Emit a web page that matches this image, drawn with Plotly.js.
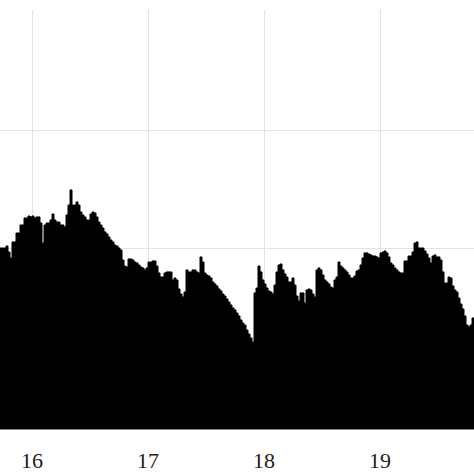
<!DOCTYPE html>
<html>
<head>
<meta charset="utf-8">
<script src="https://cdn.plot.ly/plotly-3.0.1.min.js"></script>
<style>html,body{margin:0;padding:0;background:#fff;}#chart{width:474px;height:474px;}</style>
</head>
<body>
<div id="chart"></div>
<script>
// weekly-ish observations (index = observation number)
const values = [
20.00,20.00,20.00,20.17,19.66,19.15,20.51,20.51,21.27,21.27,
21.95,21.95,22.54,22.54,22.71,22.63,22.71,22.54,22.63,22.63,
22.12,20.42,21.95,22.12,22.12,22.37,22.88,22.37,22.20,22.20,
21.95,21.95,21.78,22.80,23.64,24.92,23.64,23.64,23.90,23.64,
23.05,22.80,22.63,22.37,22.37,22.88,23.05,22.97,22.63,22.20,
21.95,21.69,21.36,21.19,20.93,20.68,20.51,20.25,20.17,20.00,
19.83,18.98,18.47,18.39,19.07,19.07,18.98,18.81,18.73,18.56,
18.39,18.31,18.14,18.31,18.81,18.81,18.90,18.90,18.47,17.88,
17.54,17.54,17.88,17.97,17.97,17.97,17.29,17.46,17.29,16.53,
16.10,15.85,16.27,18.14,17.97,17.97,18.14,18.14,17.97,17.88,
19.24,18.81,17.88,17.71,17.63,17.46,17.12,16.95,16.78,16.53,
16.36,16.10,15.93,15.68,15.42,15.17,14.92,14.75,14.49,14.24,
13.90,13.64,13.47,13.05,12.71,12.37,12.03,16.19,16.61,18.47,
17.97,17.29,16.95,16.61,16.36,16.27,16.10,16.86,17.97,18.56,
18.64,18.14,17.80,17.54,17.12,17.12,17.46,16.86,15.93,15.51,
16.19,16.19,15.34,16.44,16.53,16.44,16.10,15.85,18.14,18.31,
18.14,17.71,17.29,17.12,16.95,16.69,16.61,17.29,17.54,18.81,
18.47,18.31,18.14,17.97,17.71,17.46,17.46,17.63,18.05,18.14,
18.56,19.15,19.58,19.58,19.49,19.41,19.32,19.32,19.24,19.15,
19.58,19.66,19.75,19.58,19.24,18.73,18.56,18.31,18.14,17.97,
17.88,17.88,18.90,18.90,19.32,19.32,19.66,20.42,20.51,20.00,
20.00,20.00,19.75,19.49,19.15,18.73,19.32,19.41,19.24,19.24,
18.98,17.97,17.03,17.03,17.54,17.46,16.78,16.44,16.27,15.76,
15.25,14.83,14.24,13.47,13.31,13.47,14.07,14.07
];
const obsIndex = values.map((v, i) => i);
const yearTickPos = [16, 74, 132, 190];
const yearTickText = ["16", "17", "18", "19"];
const yGridVals = [20, 30];

Plotly.newPlot('chart', [{
  x: obsIndex,
  y: values,
  type: 'scatter',
  mode: 'lines',
  fill: 'tozeroy',
  fillcolor: '#000000',
  line: {color: '#000000', width: 1, shape: 'hv'},
  hoverinfo: 'skip'
}], {
  width: 474, height: 474,
  margin: {l: 0, r: 0, t: 10, b: 45},
  paper_bgcolor: '#ffffff',
  plot_bgcolor: '#ffffff',
  showlegend: false,
  xaxis: {
    range: [0, 237],
    tickvals: yearTickPos,
    ticktext: yearTickText,
    ticks: 'outside', ticklen: 12, tickcolor: 'rgba(0,0,0,0)',
    showgrid: true, gridcolor: '#e3e3e3', gridwidth: 1,
    showline: true, linecolor: '#8a8a8a', linewidth: 1,
    zeroline: false,
    tickfont: {family: 'Liberation Serif, serif', size: 22, color: '#222'}
  },
  yaxis: {
    range: [4.66, 40.17],
    tickvals: yGridVals,
    showticklabels: false,
    showgrid: true, gridcolor: '#e3e3e3', gridwidth: 1,
    zeroline: false, showline: false, ticks: ''
  }
}, {staticPlot: true, displayModeBar: false});
</script>
</body>
</html>
